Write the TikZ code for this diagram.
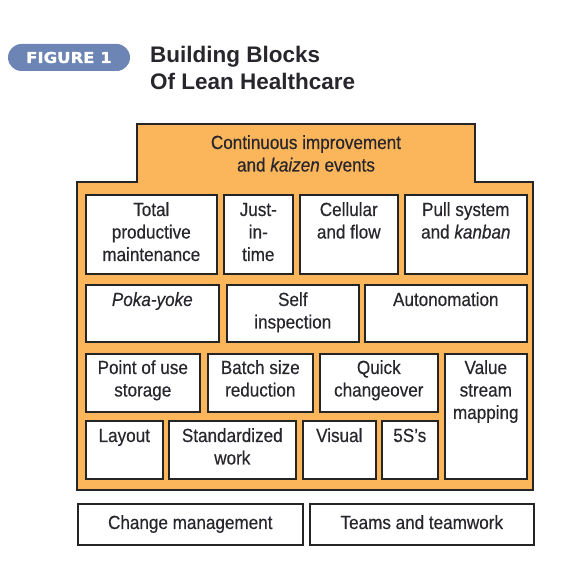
\documentclass[tikz,border=0pt]{standalone}
\usepackage{fontspec}
\setmainfont{Liberation Sans}[FakeStretch=0.9,FakeBold=0.4]
\newfontfamily\titlefont{Liberation Sans}
\newfontfamily\badgefont{DejaVu Sans}[FakeStretch=1.1,FakeBold=1]
\definecolor{leanorange}{RGB}{251,182,92}
\definecolor{edgedark}{RGB}{38,36,36}
\definecolor{txtdark}{RGB}{40,38,44}
\definecolor{badgeblue}{RGB}{108,133,180}
\newcommand\mylines[1]{\begin{tabular}[t]{@{}c@{}}#1\end{tabular}}
\newcommand\blk[7]{%
  \node[blk,anchor=north west,minimum width=#4pt,minimum height=#5pt] (#1) at (#2,#3) {};
  \node[lbl] (#1-t) at ([yshift=-#6pt]#1.north) {\mylines{#7}};}
\tikzset{
  blk/.style={draw=edgedark,line width=1.6pt,fill=white,inner sep=0pt},
  lbl/.style={anchor=base,inner sep=0pt,text=txtdark,font=\fontsize{19}{22.5}\selectfont},
  tabshape/.style={draw=edgedark,line width=1.6pt,fill=leanorange},
}
\begin{document}
\begin{tikzpicture}[x=1pt,y=-1pt]
\useasboundingbox (0,0) rectangle (571,561);
% badge and title
\node[fill=badgeblue,rounded corners=13.5pt,minimum width=122pt,minimum height=27pt,inner sep=0pt,
      text=white,font=\badgefont\bfseries\fontsize{15}{15}\selectfont] (badge) at (69,57.5) {FIGURE 1};
\node[anchor=base west,inner sep=0pt,text=txtdark,font=\titlefont\bfseries\fontsize{22.5}{26}\selectfont] (title1) at (150,63) {Building Blocks};
\node[anchor=base west,inner sep=0pt,text=txtdark,font=\titlefont\bfseries\fontsize{22.5}{26}\selectfont] (title2) at (150,90) {Of Lean Healthcare};
% orange frame
\draw[tabshape] (77,182) -- (137,182) -- (137,124) -- (475,124) -- (475,182) -- (533,182) -- (533,490) -- (77,490) -- cycle;
\node[lbl] (ci) at (306,149) {\mylines{Continuous improvement\\and \textit{kaizen} events}};
% row 1
\blk{tpm}{85}{194}{131}{79}{22}{Total\\productive\\maintenance}
\blk{jit}{223}{194}{69}{79}{22}{Just-\\in-\\time}
\blk{cell}{299}{194}{98}{79}{22}{Cellular\\and flow}
\blk{pull}{404}{194}{122}{79}{22}{Pull system\\and \textit{kanban}}
% row 2
\blk{poka}{85}{284}{133}{57}{22}{\textit{Poka-yoke}}
\blk{self}{226}{284}{132}{57}{22}{Self\\inspection}
\blk{auto}{364}{284}{162}{57}{22}{Autonomation}
% row 3
\blk{pou}{85}{353}{114}{58}{21}{Point of use\\storage}
\blk{batch}{207}{353}{105}{58}{21}{Batch size\\reduction}
\blk{quick}{319}{353}{118}{58}{21}{Quick\\changeover}
\blk{vsm}{444}{353}{82}{125}{21}{Value\\stream\\mapping}
% row 4
\blk{layout}{85}{420}{77}{58}{22}{Layout}
\blk{std}{168}{420}{127}{58}{22}{Standardized\\work}
\blk{visual}{302}{420}{73}{58}{22}{Visual}
\blk{fives}{381}{420}{56}{58}{22}{5S's}
% bottom
\blk{change}{77}{503}{225}{41}{26}{Change management}
\blk{teams}{309}{503}{224}{41}{26}{Teams and teamwork}
\end{tikzpicture}
\end{document}
